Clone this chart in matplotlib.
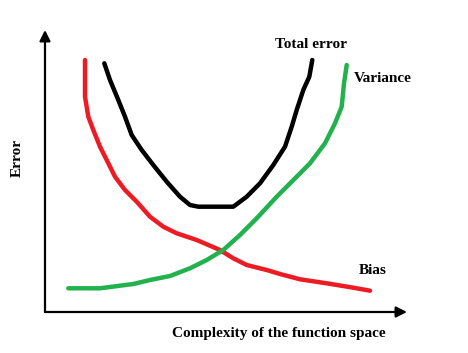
import matplotlib
matplotlib.use("Agg")
import matplotlib.pyplot as plt

# Complexity (x) vs error (y) in arbitrary units
bias_x = [40, 40, 43.3, 48.3, 55, 61.7, 70, 80, 91.7, 105, 118.3, 131.7, 151.7, 175, 188.3, 201.7, 221.7, 235, 255, 281.7, 308.3, 325]
bias_y = [252, 215.3, 195.3, 182, 165.3, 152, 135.3, 122, 110.3, 95.3, 85.3, 78.7, 72, 62, 53.7, 47, 42, 38, 32.7, 28.7, 24.3, 21.3]

total_x = [59.3, 65, 73.3, 80, 86.7, 96.7, 108.3, 121.7, 135, 145, 153.3, 188.3, 201.7, 215, 228.3, 240, 246.7, 251.7, 258.3, 264.3, 267.3]
total_y = [248.7, 232, 212, 195.3, 177, 162, 147, 130.3, 115.3, 107, 105.3, 105.3, 115.3, 128.7, 147, 165.3, 185.3, 202, 222, 235.3, 252]

var_x = [23.3, 55, 88.3, 105, 125, 145, 161.7, 178.3, 195, 211.7, 231.7, 251.7, 265, 280, 290, 296.7, 299, 301.7]
var_y = [23.7, 23.7, 28, 32, 36, 43.7, 52, 62, 77, 93.7, 115.3, 135.3, 148.7, 168.7, 188.7, 205.3, 228.7, 247]

W, H = 468, 353
fig = plt.figure(figsize=(W / 100, H / 100), dpi=100)
ax = fig.add_axes([45 / W, (H - 312) / H, 362 / W, 282 / H])
ax.set_xlim(0, 362)
ax.set_ylim(0, 282)
ax.axis("off")

lw = 3.2
style = dict(lw=lw, solid_capstyle="round", solid_joinstyle="round")
ax.plot(bias_x, bias_y, color="#ED1C24", **style)
ax.plot(var_x, var_y, color="#22B14C", **style)
ax.plot(total_x, total_y, color="black", **style)

# axes arrows
arrow = dict(arrowstyle="-|>", lw=1.6, color="black", mutation_scale=16, shrinkA=0, shrinkB=0)
ax.annotate("", xy=(1, 0), xytext=(0, 0), xycoords="axes fraction", textcoords="axes fraction", arrowprops=arrow)
ax.annotate("", xy=(0, 1), xytext=(0, 0), xycoords="axes fraction", textcoords="axes fraction", arrowprops=arrow)

font = dict(family="Liberation Serif", fontweight="bold", fontsize=11, color="black")
ax.text(266, 268, "Total error", ha="center", va="center", clip_on=False, **font)
ax.text(309, 233, "Variance", ha="left", va="center", clip_on=False, **font)
ax.text(314, 41, "Bias", ha="left", va="center", clip_on=False, **font)

fig.text(17.5 / W, 1 - 158 / H, "Error", rotation=90, ha="center", va="center", **font)
fig.text(278.5 / W, 1 - 334 / H, "Complexity of the function space", ha="center", va="center", **font)

fig.savefig("out.png", dpi=100)
